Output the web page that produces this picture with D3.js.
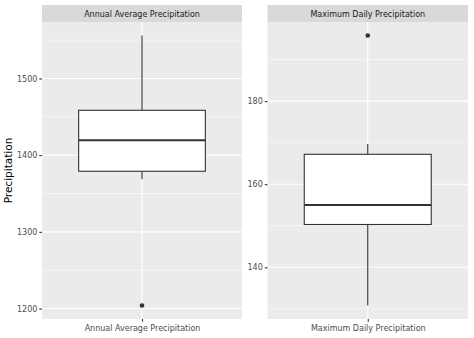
<!DOCTYPE html>
<html><head><meta charset="utf-8">
<script src="https://cdn.jsdelivr.net/npm/d3@7"></script>
<style>body{margin:0;background:#fff;} svg{display:block;}</style>
</head><body>
<svg id="c" width="474" height="338"></svg>
<script>
const categories = ["Annual Average Precipitation", "Maximum Daily Precipitation"];
// [lower whisker, Q1, median, Q3, upper whisker]
const annualStats = [1368.5, 1379, 1419.5, 1458.5, 1556];
const annualOutliers = [1204];
const dailyStats = [130.8, 150.3, 155, 167.2, 169.7];
const dailyOutliers = [195.8];
const annualTicks = [1200, 1300, 1400, 1500];
const dailyTicks = [140, 160, 180];
const yTitle = "Precipitation";

(function () {
const svg = d3.select("#c");
const font = "DejaVu Sans, sans-serif";
const panels = [
  {x0: 42, x1: 242, stats: annualStats, out: annualOutliers, ticks: annualTicks, cat: categories[0]},
  {x0: 267.5, x1: 468, stats: dailyStats, out: dailyOutliers, ticks: dailyTicks, cat: categories[1]}
];
const pTop = 22, pBottom = 319, stripTop = 5;

panels.forEach(p => {
  const all = p.stats.concat(p.out);
  const mn = d3.min(all), mx = d3.max(all), pad = (mx - mn) * 0.05;
  const y = d3.scaleLinear().domain([mn - pad, mx + pad]).range([pBottom, pTop]);
  const x = d3.scaleLinear().domain([0.4, 1.6]).range([p.x0, p.x1]);
  const g = svg.append("g");
  g.append("rect").attr("x", p.x0).attr("y", stripTop).attr("width", p.x1 - p.x0).attr("height", pTop - stripTop).attr("fill", "#D9D9D9");
  g.append("text").attr("x", (p.x0 + p.x1) / 2).attr("y", (stripTop + pTop) / 2 + 3)
    .attr("text-anchor", "middle").attr("font-family", font).attr("font-size", 8).attr("fill", "#1A1A1A").text(p.cat);
  g.append("rect").attr("x", p.x0).attr("y", pTop).attr("width", p.x1 - p.x0).attr("height", pBottom - pTop).attr("fill", "#EBEBEB");
  const step = p.ticks[1] - p.ticks[0];
  const minor = [];
  for (let v = p.ticks[0] - step / 2; v <= y.domain()[1]; v += step) if (v >= y.domain()[0]) minor.push(v);
  g.selectAll(".mn").data(minor).enter().append("line")
    .attr("x1", p.x0).attr("x2", p.x1).attr("y1", d => y(d)).attr("y2", d => y(d))
    .attr("stroke", "#fff").attr("stroke-width", 0.55);
  g.selectAll(".mj").data(p.ticks).enter().append("line")
    .attr("x1", p.x0).attr("x2", p.x1).attr("y1", d => y(d)).attr("y2", d => y(d))
    .attr("stroke", "#fff").attr("stroke-width", 1.1);
  g.append("line").attr("x1", x(1)).attr("x2", x(1)).attr("y1", pTop).attr("y2", pBottom).attr("stroke", "#fff").attr("stroke-width", 1.1);
  const ya = g.append("g").attr("transform", `translate(${p.x0},0)`)
    .call(d3.axisLeft(y).tickValues(p.ticks).tickFormat(d3.format("d")).tickSize(2.7).tickPadding(2));
  ya.select(".domain").remove();
  ya.selectAll("line").attr("stroke", "#333333").attr("stroke-width", 1.1);
  ya.selectAll("text").attr("font-family", font).attr("font-size", 8).attr("fill", "#4D4D4D");
  const xa = g.append("g").attr("transform", `translate(0,${pBottom})`)
    .call(d3.axisBottom(x).tickValues([1]).tickFormat(() => p.cat).tickSize(2.7).tickPadding(4));
  xa.select(".domain").remove();
  xa.selectAll("line").attr("stroke", "#333333").attr("stroke-width", 1.1);
  xa.selectAll("text").attr("font-family", font).attr("font-size", 8).attr("fill", "#4D4D4D");
  const [lw, q1, md, q3, uw] = p.stats;
  const bw = 0.76;
  g.append("line").attr("x1", x(1)).attr("x2", x(1)).attr("y1", y(q3)).attr("y2", y(uw)).attr("stroke", "#333333").attr("stroke-width", 1.1);
  g.append("line").attr("x1", x(1)).attr("x2", x(1)).attr("y1", y(q1)).attr("y2", y(lw)).attr("stroke", "#333333").attr("stroke-width", 1.1);
  g.append("rect").attr("x", x(1 - bw / 2)).attr("width", x(1 + bw / 2) - x(1 - bw / 2))
    .attr("y", y(q3)).attr("height", y(q1) - y(q3)).attr("fill", "#fff").attr("stroke", "#333333").attr("stroke-width", 1.1);
  g.append("line").attr("x1", x(1 - bw / 2)).attr("x2", x(1 + bw / 2)).attr("y1", y(md)).attr("y2", y(md)).attr("stroke", "#333333").attr("stroke-width", 2.1);
  g.selectAll(".o").data(p.out).enter().append("circle").attr("cx", x(1)).attr("cy", d => y(d)).attr("r", 2.3).attr("fill", "#333333");
});

svg.append("text").attr("transform", `translate(12,${(pTop + pBottom) / 2}) rotate(-90)`)
  .attr("text-anchor", "middle").attr("font-family", font).attr("font-size", 10.5).attr("fill", "#000").text(yTitle);
})();
</script>
</body></html>
